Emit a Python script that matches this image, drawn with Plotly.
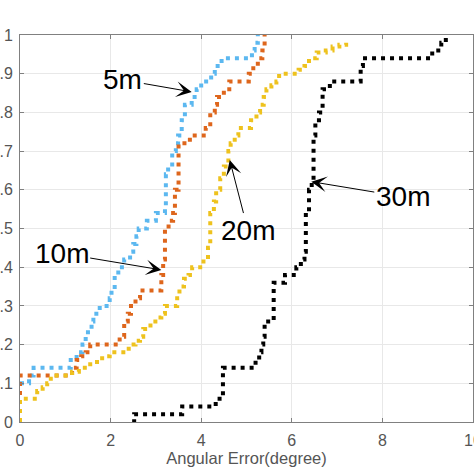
import plotly.graph_objects as go

# ---- data ----
x_5m = [0, 0.2, 0.3, 1.12, 1.25, 1.38, 1.45, 1.5, 1.58, 1.62, 1.76, 1.98, 2.02, 2.09, 2.17, 2.3, 2.43, 2.5,
        2.57, 2.62, 2.8, 3.0, 3.2, 3.22, 3.27, 3.36, 3.44, 3.49, 3.57, 3.64, 3.79, 3.9, 4.0, 4.22, 4.3, 4.45,
        5.12, 5.18, 5.25]
y_5m = [0.10, 0.12, 0.14, 0.16, 0.18, 0.20, 0.22, 0.24, 0.26, 0.28, 0.30, 0.32, 0.34, 0.38, 0.40, 0.42, 0.44, 0.46,
        0.48, 0.50, 0.52, 0.54, 0.56, 0.64, 0.66, 0.70, 0.72, 0.74, 0.78, 0.82, 0.84, 0.86, 0.88, 0.90, 0.92, 0.94,
        0.96, 0.98, 1.0]

x_10m = [0, 0, 1.15, 1.25, 1.35, 1.45, 1.55, 2.2, 2.3, 2.38, 2.45, 2.55, 2.65, 3.12, 3.16, 3.2, 3.28, 3.38, 3.42,
         3.5, 3.75, 4.1, 4.2, 4.3, 4.35, 4.5, 4.62, 5.05, 5.15, 5.25, 5.35, 5.4]
y_10m = [0.07, 0.12, 0.14, 0.16, 0.17, 0.18, 0.20, 0.22, 0.26, 0.28, 0.30, 0.32, 0.34, 0.38, 0.42, 0.50, 0.52, 0.54,
         0.60, 0.72, 0.74, 0.76, 0.80, 0.82, 0.84, 0.86, 0.88, 0.90, 0.92, 0.94, 0.96, 1.0]

x_20m = [0, 0, 0.38, 0.5, 0.6, 0.68, 1.15, 1.3, 1.55, 1.75, 1.9, 1.98, 2.4, 2.55, 2.65, 2.72, 2.88, 3.05, 3.12, 3.2,
         3.47, 3.52, 3.62, 3.72, 3.8, 4.05, 4.15, 4.2, 4.28, 4.33, 4.42, 4.5, 4.6, 4.65, 4.74, 4.82, 5.1, 5.22,
         5.3, 5.38, 5.44, 5.55, 5.66, 5.72, 6.15, 6.28, 6.38, 6.55, 6.75, 6.9, 7.05, 7.2]
y_20m = [0, 0.06, 0.08, 0.09, 0.10, 0.12, 0.13, 0.14, 0.155, 0.165, 0.17, 0.18, 0.20, 0.21, 0.22, 0.24, 0.26, 0.27,
         0.28, 0.30, 0.32, 0.35, 0.37, 0.38, 0.40, 0.42, 0.45, 0.54, 0.57, 0.60, 0.63, 0.66, 0.70, 0.72, 0.74, 0.76,
         0.78, 0.80, 0.82, 0.84, 0.86, 0.87, 0.88, 0.90, 0.91, 0.92, 0.94, 0.955, 0.96, 0.97, 0.975, 0.98]

x_30m = [2.49, 2.52, 3.58, 4.32, 4.48, 5.2, 5.28, 5.33, 5.37, 5.4, 5.6, 5.85, 6.1, 6.2, 6.28, 6.31, 6.38, 6.44,
         6.48, 6.52, 6.6, 6.68, 6.84, 7.52, 7.57, 9.1, 9.3, 9.4]
y_30m = [0, 0.02, 0.04, 0.06, 0.14, 0.16, 0.18, 0.20, 0.22, 0.26, 0.36, 0.38, 0.40, 0.42, 0.44, 0.54, 0.60, 0.62,
         0.74, 0.78, 0.80, 0.86, 0.88, 0.92, 0.94, 0.96, 0.98, 1.0]

x_ticks = [0, 2, 4, 6, 8, 10]
x_ticklabels = ["0", "2", "4", "6", "8", "10"]
y_ticks = [0, 0.1, 0.2, 0.3, 0.4, 0.5, 0.6, 0.7, 0.8, 0.9, 1.0]
y_ticklabels = ["0", "0.1", "0.2", "0.3", "0.4", "0.5", "0.6", "0.7", "0.8", "0.9", "1"]

labels = ["5m", "10m", "20m", "30m"]
label_tip_x = [3.79, 3.12, 4.63, 6.43]
label_tip_y = [0.853, 0.393, 0.677, 0.621]
label_txt_x = [2.27, 0.92, 5.03, 8.45]
label_txt_y = [0.884, 0.436, 0.496, 0.582]

colors = ["#5CB8F0", "#DE661C", "#EEC21E", "#000000"]

series = [(x_5m, y_5m), (x_10m, y_10m), (x_20m, y_20m), (x_30m, y_30m)]

FONT = "Liberation Sans, Arial, Helvetica, sans-serif"

fig = go.Figure()
for (xs, ys), c, name in zip(series, colors, labels):
    fig.add_trace(go.Scatter(
        x=xs, y=ys, mode="lines", name=name,
        line=dict(color=c, width=4, shape="hv", dash="4px,5px"),
        showlegend=False, hoverinfo="skip"))

for lab, tx, ty, ax, ay in zip(labels, label_tip_x, label_tip_y, label_txt_x, label_txt_y):
    fig.add_annotation(
        x=tx, y=ty, ax=ax, ay=ay, xref="x", yref="y", axref="x", ayref="y",
        text=lab, showarrow=True, arrowhead=3, arrowsize=2.6, arrowwidth=1,
        arrowcolor="#000000", font=dict(family=FONT, size=28, color="#000000"),
        standoff=0, startstandoff=0)

axis_common = dict(
    showline=True, linecolor="#808080", linewidth=1, mirror="ticks",
    ticks="inside", ticklen=4, tickcolor="#808080",
    showgrid=True, gridcolor="#e8e8e8", gridwidth=1, zeroline=False,
    ticklabeloverflow="allow",
    tickfont=dict(family=FONT, size=16, color="#555555"))

fig.update_xaxes(range=[0, 10], tickvals=x_ticks, ticktext=x_ticklabels, ticklabelstandoff=4,
                 title=dict(text="Angular Error(degree)", font=dict(family=FONT, size=16.5, color="#555555"),
                            standoff=4),
                 **axis_common)
fig.update_yaxes(range=[0, 1], tickvals=y_ticks, ticktext=y_ticklabels, ticklabelstandoff=3, **axis_common)

fig.update_layout(
    width=474, height=474,
    margin=dict(l=20, r=1, t=35, b=52, autoexpand=False),
    plot_bgcolor="white", paper_bgcolor="white",
)

fig.write_html("out.html")
